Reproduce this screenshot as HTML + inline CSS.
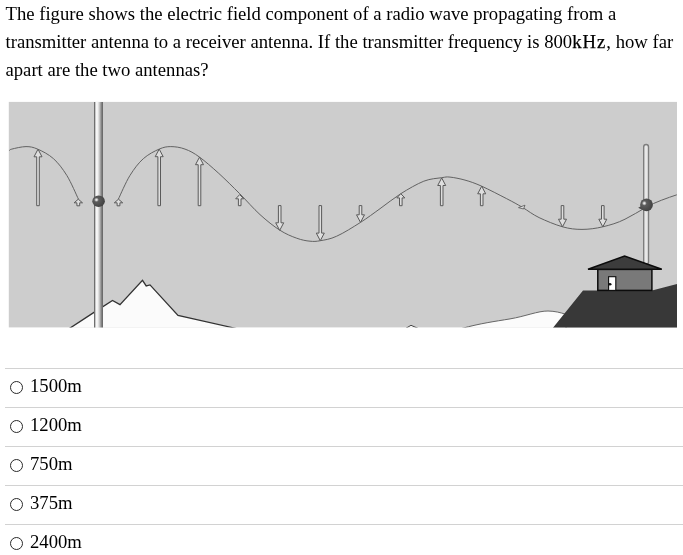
<!DOCTYPE html>
<html><head><meta charset="utf-8">
<style>
html,body{margin:0;padding:0;background:#fff;}
body{width:683px;height:555px;overflow:hidden;position:relative;font-family:"Liberation Serif","Times New Roman",serif;color:#000;}
#q{position:absolute;left:5.5px;top:-0.5px;width:678px;font-size:18.67px;line-height:28.4px;margin:0;white-space:nowrap;}
#fig{position:absolute;left:0;top:0;}
.opt{position:absolute;left:5px;width:678px;height:38px;border-top:1px solid #d2d2d2;font-size:18.67px;}
.opt .r{position:absolute;left:5px;top:12px;width:11px;height:11px;border:1px solid #2a2a2a;border-radius:50%;background:#fff;}
.opt .t{position:absolute;left:25px;top:5.8px;line-height:22px;}
</style></head><body>
<p id="q"><span id="l1">The figure shows the electric field component of a radio wave propagating from a</span><br><span id="l2">transmitter antenna to a receiver antenna. If the transmitter frequency is 800<span style="letter-spacing:1px;-webkit-text-stroke:0.25px #000">kHz</span>, how far</span><br><span id="l3">apart are the two antennas?</span></p>
<svg id="fig" width="683" height="345" viewBox="0 0 683 345">
<defs>
<linearGradient id="pole" x1="0" y1="0" x2="1" y2="0">
<stop offset="0" stop-color="#6a6a6a"/><stop offset="0.055" stop-color="#6e6e6e"/><stop offset="0.167" stop-color="#c8c8c8"/><stop offset="0.278" stop-color="#f6f6f6"/><stop offset="0.389" stop-color="#f2f2f2"/><stop offset="0.5" stop-color="#dedede"/><stop offset="0.611" stop-color="#c4c4c4"/><stop offset="0.722" stop-color="#a2a2a2"/><stop offset="0.833" stop-color="#828282"/><stop offset="0.944" stop-color="#6c6c6c"/><stop offset="1" stop-color="#6a6a6a"/>
</linearGradient>
<linearGradient id="pole2" x1="0" y1="0" x2="1" y2="0">
<stop offset="0" stop-color="#777"/><stop offset="0.2" stop-color="#999"/><stop offset="0.4" stop-color="#fff"/><stop offset="0.65" stop-color="#eee"/><stop offset="0.85" stop-color="#999"/><stop offset="1" stop-color="#777"/>
</linearGradient>
<radialGradient id="ball" cx="0.33" cy="0.38" r="0.62">
<stop offset="0" stop-color="#f4f4f4"/><stop offset="0.1" stop-color="#d8d8d8"/><stop offset="0.3" stop-color="#5c5c5c"/><stop offset="1" stop-color="#444"/>
</radialGradient>
<clipPath id="clip"><rect x="9" y="101.9" width="668" height="225.5"/></clipPath>
</defs>
<rect x="8.8" y="101.9" width="668.2" height="225.5" fill="#cdcdcd"/>
<g clip-path="url(#clip)"><g transform="translate(0,0.4)">
<!-- mountain -->
<path d="M68 329 L94 312 L112.5 300 L120 304.2 L142.5 280 L146.2 285.5 L150 284.5 L178 315 L236 328 L236 330 Z" fill="#fbfbfb" stroke="#333" stroke-width="1.3" stroke-linejoin="miter"/>
<!-- small bump -->
<path d="M405 328.4 L411 324.9 L419 328.4 Z" fill="#fbfbfb" stroke="#444" stroke-width="1"/>
<!-- snow ground -->
<path d="M462 328 C480 323 495 321 510 318.5 C525 316 538 310.5 548 310.6 C555 310.8 560 312 566 314 L566 330 L462 330 Z" fill="#fbfbfb" stroke="#666" stroke-width="1"/>
<!-- hill -->
<path d="M552.8 327.5 L583 290.2 L652 290.2 L677 283.5 L677 327.5 Z" fill="#383838"/>
<!-- receiver pole -->
<rect x="643.7" y="144.1" width="4.8" height="120" rx="2.4" fill="#e8e8e8" stroke="#7e7e7e" stroke-width="1.4"/>
<!-- house -->
<rect x="597.8" y="269" width="54.1" height="21" fill="#797979" stroke="#0c0c0c" stroke-width="1.5"/>
<path d="M588 268.9 L624.6 255.6 L661.8 268.9 Z" fill="#3c3c3c" stroke="#0c0c0c" stroke-width="1.5" stroke-linejoin="miter"/>
<rect x="608.6" y="276.3" width="7.2" height="13.7" fill="#fff" stroke="#0c0c0c" stroke-width="1.1"/>
<ellipse cx="609.9" cy="283.9" rx="1.6" ry="1.3" fill="#111"/>
<!-- wave -->
<path d="M118.3 198.9 C120.2 195.0 125.8 181.7 130.0 175.0 C134.2 168.3 138.4 162.7 143.3 158.3 C148.2 153.9 154.6 150.7 159.2 148.7 C163.8 146.7 166.5 146.2 170.8 146.2 C175.1 146.2 180.2 146.9 185.0 148.7 C189.8 150.4 193.9 152.6 199.5 156.7 C205.1 160.8 212.1 166.9 218.8 173.0 C225.5 179.1 232.8 186.4 239.7 193.3 C246.6 200.2 253.3 208.1 260.0 214.2 C266.7 220.3 273.6 225.8 279.7 229.7 C285.8 233.6 291.6 236.0 296.7 237.8 C301.8 239.7 306.1 240.4 310.0 240.8 C313.9 241.2 315.9 241.1 320.3 240.3 C324.8 239.5 330.0 238.9 336.7 235.8 C343.4 232.8 353.3 226.6 360.5 222.0 C367.7 217.4 373.3 213.1 380.0 208.3 C386.7 203.5 393.5 197.9 400.8 193.3 C408.1 188.7 417.0 183.5 423.8 180.8 C430.6 178.1 437.3 178.0 441.7 177.3 C446.1 176.6 446.1 176.3 450.0 176.7 C453.9 177.1 459.7 178.2 465.0 179.7 C470.3 181.2 474.8 182.7 481.7 185.8 C488.6 188.9 499.9 194.8 506.7 198.3 C513.5 201.8 517.1 203.8 522.5 207.0 C527.9 210.2 532.4 214.0 539.1 217.2 C545.8 220.4 555.4 224.4 562.5 226.4 C569.6 228.4 575.3 229.0 582.0 229.0 C588.7 229.0 595.6 228.1 602.8 226.4 C610.0 224.7 617.7 222.5 625.0 218.8 C632.3 215.1 639 211 646.5 206.6 C655 201.8 668 197.3 676.8 194.4" fill="none" stroke="#626262" stroke-width="1"/>
<path d="M78.5 198.9 C76.6 195.0 71.0 181.7 66.8 175.0 C62.6 168.3 58.4 162.7 53.5 158.3 C48.6 153.9 42.2 150.7 37.6 148.7 C33.0 146.7 30.3 146.2 26.0 146.2 C21.7 146.2 14.6 148.0 11.8 148.7 C9.0 149.4 9.6 150.0 9.2 150.3" fill="none" stroke="#626262" stroke-width="1"/>
<g fill="#dedede" stroke="#5a5a5a" stroke-width="1" stroke-linejoin="miter">
<path d="M38.0 148.8 L42.0 156.4 L39.3 156.4 L39.3 205.3 L36.7 205.3 L36.7 156.4 L34.0 156.4 Z"/>
<path d="M78.3 198.8 L82.5 202.4 L79.7 202.4 L79.7 205.4 L76.9 205.4 L76.9 202.4 L74.1 202.4 Z"/>
<path d="M118.5 198.8 L122.7 202.4 L119.9 202.4 L119.9 205.4 L117.1 205.4 L117.1 202.4 L114.3 202.4 Z"/>
<path d="M159.2 148.7 L163.2 156.3 L160.5 156.3 L160.5 205.3 L157.9 205.3 L157.9 156.3 L155.2 156.3 Z"/>
<path d="M199.5 156.7 L203.5 164.3 L200.8 164.3 L200.8 205.3 L198.2 205.3 L198.2 164.3 L195.5 164.3 Z"/>
<path d="M239.7 194.2 L243.7 198.4 L241.0 198.4 L241.0 205.3 L238.4 205.3 L238.4 198.4 L235.7 198.4 Z"/>
<path d="M279.7 230.0 L283.7 222.4 L281.0 222.4 L281.0 205.2 L278.4 205.2 L278.4 222.4 L275.7 222.4 Z"/>
<path d="M320.3 240.3 L324.3 232.7 L321.6 232.7 L321.6 205.2 L319.0 205.2 L319.0 232.7 L316.3 232.7 Z"/>
<path d="M360.5 222.0 L364.5 214.4 L361.8 214.4 L361.8 205.2 L359.2 205.2 L359.2 214.4 L356.5 214.4 Z"/>
<path d="M400.8 193.3 L404.8 197.5 L402.1 197.5 L402.1 205.3 L399.5 205.3 L399.5 197.5 L396.8 197.5 Z"/>
<path d="M441.7 177.5 L445.7 185.1 L443.0 185.1 L443.0 205.3 L440.4 205.3 L440.4 185.1 L437.7 185.1 Z"/>
<path d="M481.7 185.8 L485.7 193.4 L483.0 193.4 L483.0 205.3 L480.4 205.3 L480.4 193.4 L477.7 193.4 Z"/>
<path d="M562.5 226.4 L566.5 218.8 L563.8 218.8 L563.8 205.2 L561.2 205.2 L561.2 218.8 L558.5 218.8 Z"/>
<path d="M602.8 226.4 L606.8 218.8 L604.1 218.8 L604.1 205.2 L601.5 205.2 L601.5 218.8 L598.8 218.8 Z"/>
</g>
<path d="M518.5 207.2 L525 204.8 L523.5 208.6 Z" fill="#ddd" stroke="#555" stroke-width="0.8"/>
<!-- transmitter pole -->
<rect x="94" y="100" width="9" height="230" fill="url(#pole)"/>
<path d="M638.2 207.4 L642.5 205 L642.5 209.6 Z" fill="#4a4a4a"/>
<ellipse cx="98.6" cy="200.8" rx="6.3" ry="5.8" fill="url(#ball)"/>
<circle cx="646.5" cy="204.4" r="6.4" fill="url(#ball)"/>
</g></g>
</svg>
<div class="opt" style="top:367.8px"><span class="r"></span><span class="t">1500m</span></div>
<div class="opt" style="top:406.8px"><span class="r"></span><span class="t">1200m</span></div>
<div class="opt" style="top:445.8px"><span class="r"></span><span class="t">750m</span></div>
<div class="opt" style="top:484.8px"><span class="r"></span><span class="t">375m</span></div>
<div class="opt" style="top:523.8px"><span class="r"></span><span class="t">2400m</span></div>
</body></html>
